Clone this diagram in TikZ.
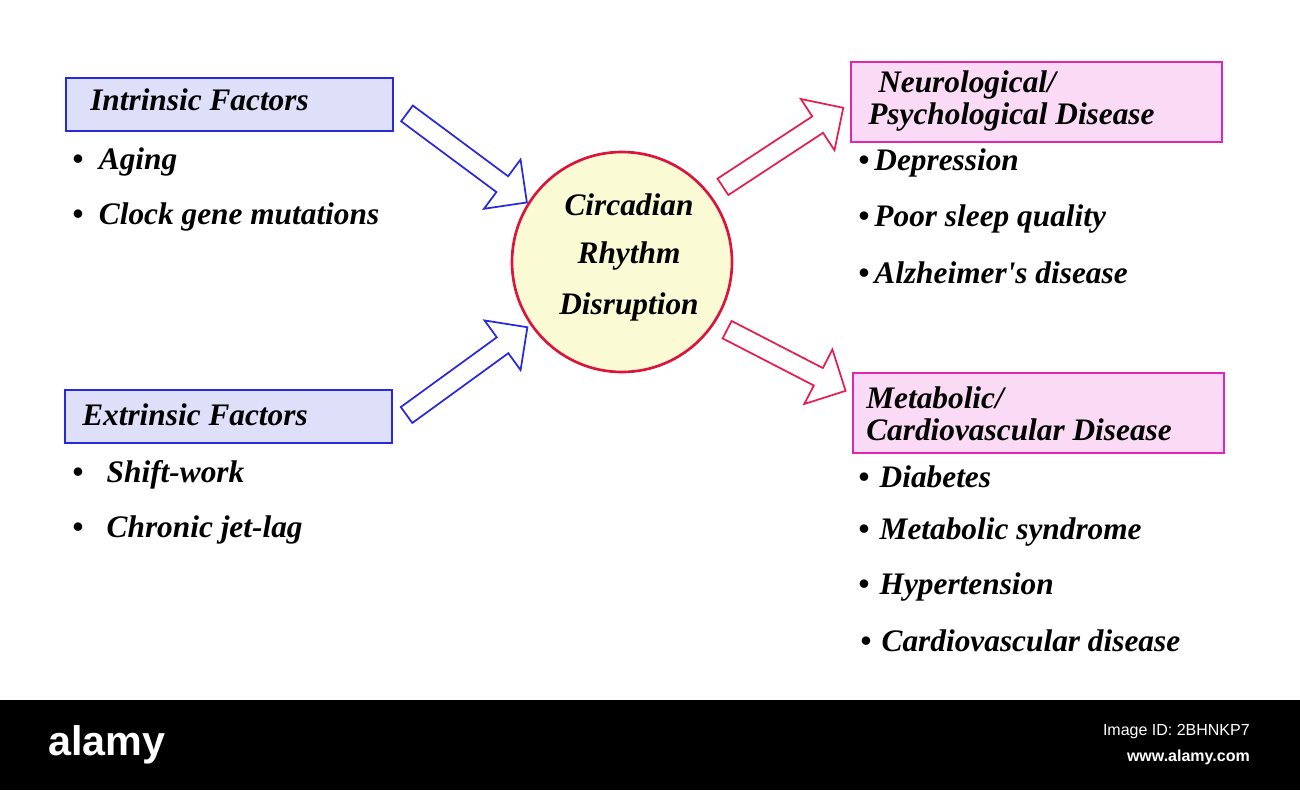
\documentclass[tikz,border=0pt]{standalone}
\usepackage{fontspec}
\setmainfont{Liberation Serif}
\newfontfamily\wmfont{Liberation Sans}
\usetikzlibrary{shapes.arrows}
\definecolor{boxblue}{RGB}{222,224,250}
\definecolor{linblue}{RGB}{40,40,220}
\definecolor{boxpink}{RGB}{250,218,245}
\definecolor{linpink}{RGB}{220,40,180}
\definecolor{circfill}{RGB}{250,250,212}
\definecolor{circline}{RGB}{220,20,60}
\definecolor{arrred}{RGB}{230,30,80}
\begin{document}
\begin{tikzpicture}[x=0.75pt,y=-0.75pt,
  txt/.style={font=\fontsize{23.5}{26}\selectfont\bfseries\itshape,inner sep=0pt},
  box/.style={draw,line width=1.5pt,anchor=north west,inner sep=0pt},
  bul/.style={txt,anchor=west},
  farrow/.style={single arrow,draw,line width=1.3pt,fill=white,minimum width=46pt,single arrow head extend=12pt,inner sep=5pt,anchor=center}]
\useasboundingbox (0,0) rectangle (1300,790);
\fill[white] (0,0) rectangle (1300,700);
% boxes
\node[box,fill=boxblue,draw=linblue,minimum width=245pt,minimum height=40pt] (intr) at (65,77) {};
\node[txt,anchor=west] (intrt) at (90,100) {Intrinsic Factors};
\node[box,fill=boxblue,draw=linblue,minimum width=245pt,minimum height=40pt] (extr) at (64,389) {};
\node[txt,anchor=west] (extrt) at (82,415) {Extrinsic Factors};
\node[box,fill=boxpink,draw=linpink,minimum width=278pt,minimum height=60pt] (neur) at (850,61) {};
\node[txt,anchor=west] (neurt1) at (878,85) {Neurological/};
\node[txt,anchor=west] (neurt2) at (868,117) {Psychological Disease};
\node[box,fill=boxpink,draw=linpink,minimum width=278pt,minimum height=60pt] (meta) at (852,372) {};
\node[txt,anchor=west] (metat1) at (866,398) {Metabolic/};
\node[txt,anchor=west] (metat2) at (866,430) {Cardiovascular Disease};
% circle
\node[circle,draw=circline,fill=circfill,line width=2pt,minimum size=165pt,inner sep=0pt] (c) at (622,262) {};
\node[txt] (c1) at (629,205) {Circadian};
\node[txt] (c2) at (629,256) {Rhythm};
\node[txt] (c3) at (629,307) {Disruption};
% arrows
\node[farrow,draw=linblue,minimum height=112pt,rotate=-36.6] (a1) at (463,155) {};
\node[farrow,draw=linblue,minimum height=112pt,rotate=36] (a2) at (463,374) {};
\node[farrow,draw=arrred,minimum height=108pt,rotate=33.3] (a3) at (779,150) {};
\node[farrow,draw=arrred,minimum height=100pt,rotate=-27.3] (a4) at (782,358) {};
% lists
\node[bul] (l1) at (72,162) {\textbullet\ \ Aging};
\node[bul] (l2) at (72,217) {\textbullet\ \ Clock gene mutations};
\node[bul] (l3) at (72,475) {\textbullet\ \ \ Shift-work};
\node[bul] (l4) at (72,530) {\textbullet\ \ \ Chronic jet-lag};
\node[bul] (r1) at (858,163) {\textbullet\,Depression};
\node[bul] (r2) at (858,219) {\textbullet\,Poor sleep quality};
\node[bul] (r3) at (858,273) {\textbullet\,Alzheimer\textquotesingle s disease};
\node[bul] (r4) at (858,477) {\textbullet\,\,Diabetes};
\node[bul] (r5) at (858,532) {\textbullet\,\,Metabolic syndrome};
\node[bul] (r6) at (858,587) {\textbullet\,\,Hypertension};
\node[bul] (r7) at (860,641) {\textbullet\,\,Cardiovascular disease};
% watermark bar
\fill[black] (0,700) rectangle (1300,790);
\node[white,font=\wmfont\fontsize{31}{33}\selectfont\bfseries,anchor=west,inner sep=0pt] (wm) at (48,745) {alamy};
\node[white,font=\wmfont\fontsize{12}{14}\selectfont,anchor=east,inner sep=0pt] (id) at (1250,732) {Image ID: 2BHNKP7};
\node[white,font=\wmfont\fontsize{12}{14}\selectfont\bfseries,anchor=east,inner sep=0pt] (url) at (1250,757) {www.alamy.com};
\end{tikzpicture}
\end{document}
